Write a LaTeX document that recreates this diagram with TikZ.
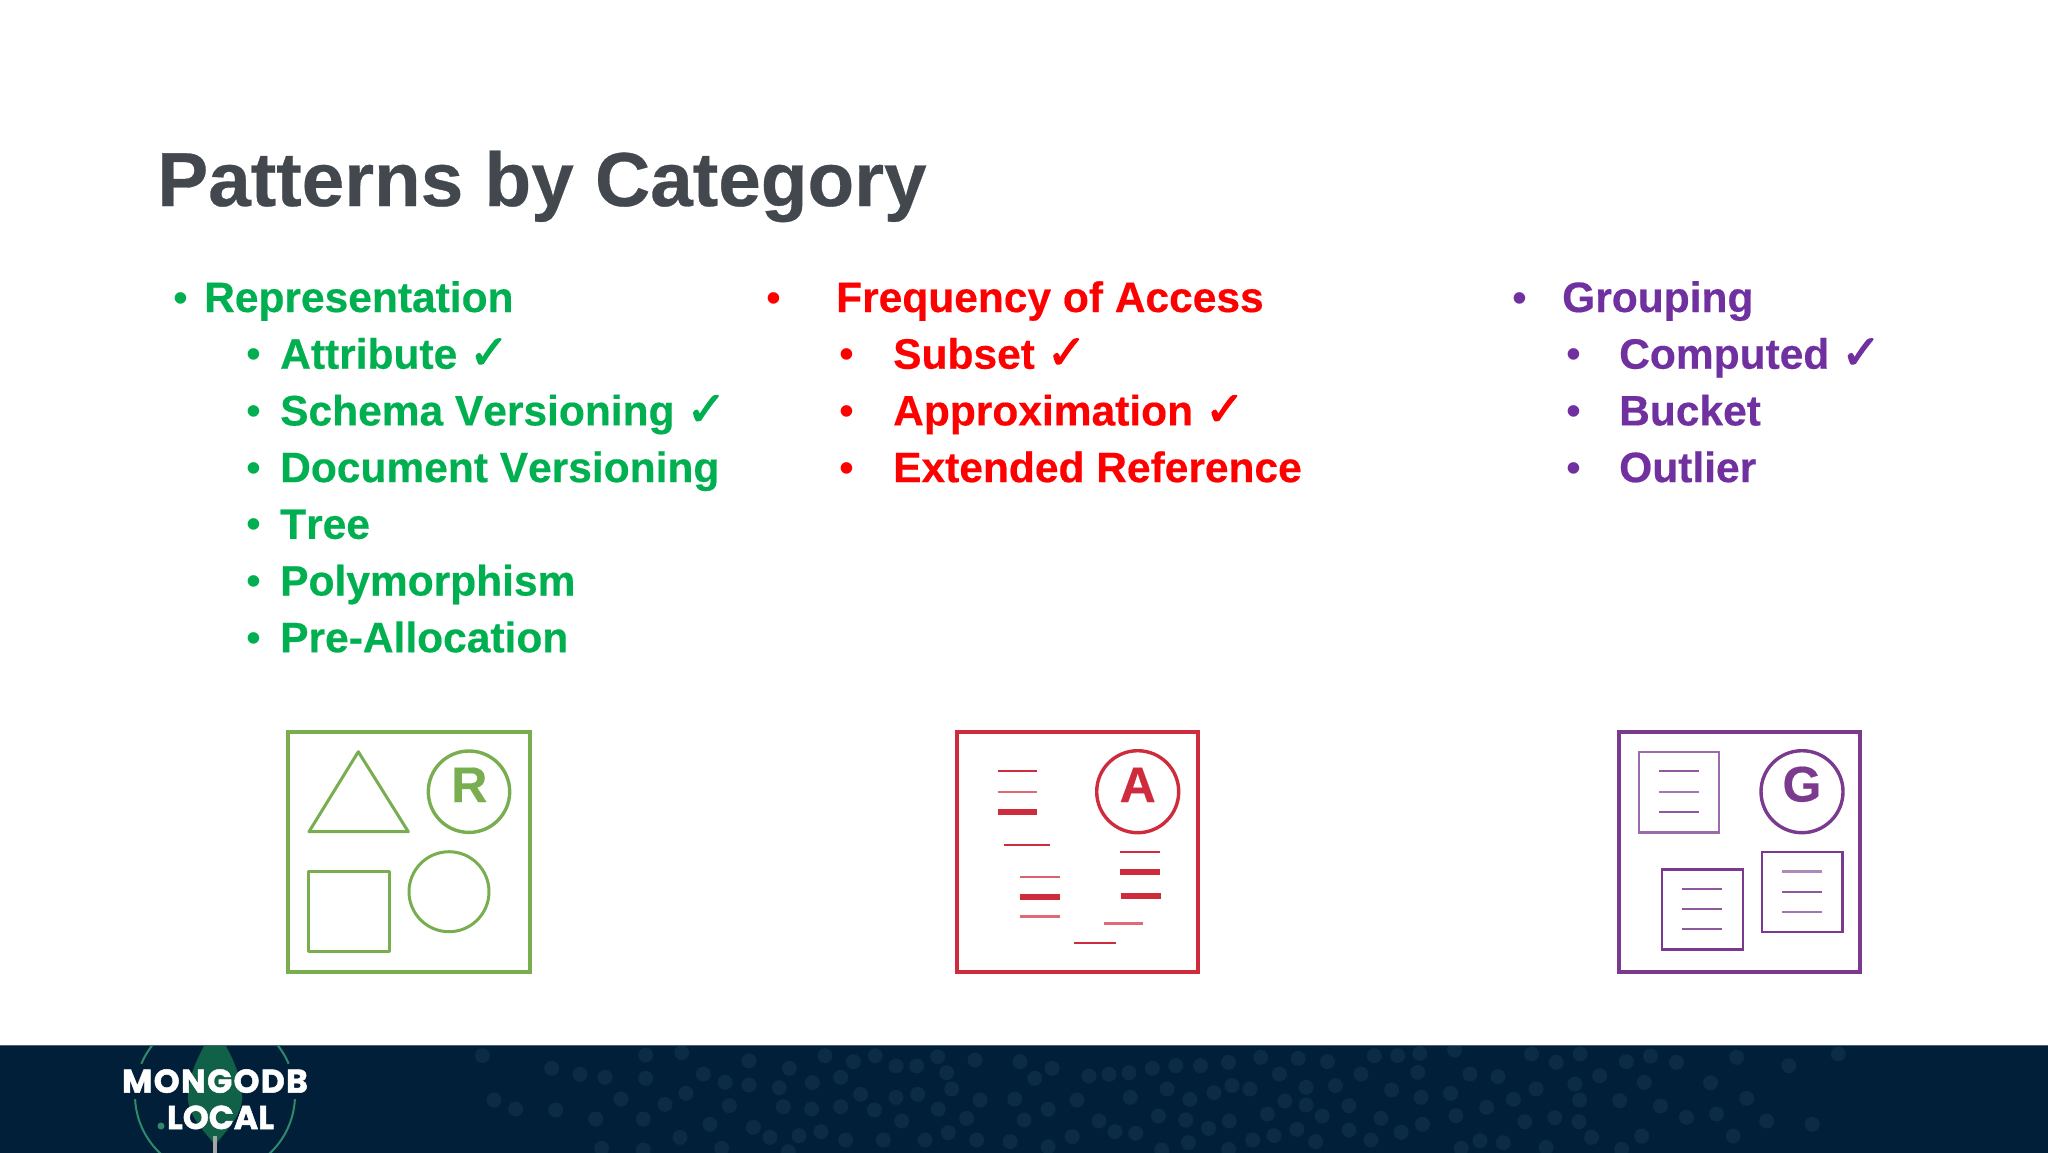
\documentclass[tikz,border=0pt]{standalone}
\usepackage{fontspec}
\setmainfont{Liberation Sans}[Kerning=Off,BoldFont={Liberation Sans Bold},BoldFeatures={FakeBold=0.4}]
\newfontfamily\chkfont[FakeBold=2.5,Scale=1.12]{DejaVu Sans Bold}
\newfontfamily\logofont[FakeBold=1.5,LetterSpace=4]{Poppins Bold}
\newfontfamily\logofontb[FakeBold=1.5]{Poppins Bold}
\definecolor{titlecol}{HTML}{43484F}
\definecolor{grn}{HTML}{00B050}
\definecolor{rd}{HTML}{FF0000}
\definecolor{prp}{HTML}{7030A0}
\definecolor{icong}{HTML}{78AE50}
\definecolor{iconr}{HTML}{CE2C3C}
\definecolor{iconp}{HTML}{7B3A8E}
\definecolor{band}{HTML}{021F3A}
\definecolor{dot}{HTML}{0C2B45}
\definecolor{leaf}{HTML}{116149}
\definecolor{ring}{HTML}{2E8B6A}
\tikzset{
  x=1pt,y=-1pt,
  txt/.style={anchor=base west,inner sep=0pt,font=\fontsize{42.5}{50}\selectfont\bfseries},
  blt/.style={anchor=base,inner sep=0pt,font=\fontsize{42.5}{50}\selectfont},
  frameg/.style={draw=icong,line width=4pt},
  framer/.style={draw=iconr,line width=4pt},
  framep/.style={draw=iconp,line width=4pt},
  shapeg/.style={draw=icong,line width=3pt,line join=round},
  ltr/.style={inner sep=0pt,anchor=base,font=\fontsize{50}{50}\selectfont\bfseries},
  thinr/.style={draw=iconr,line width=2.2pt},
  thickr/.style={draw=iconr,line width=5.8pt},
  thinp/.style={draw=iconp!85,line width=2.2pt},
  boxp/.style={draw=iconp,line width=2.4pt},
  logot/.style={inner sep=0pt,anchor=base,text=white,font=\logofont\fontsize{33}{33}\selectfont},
  logou/.style={inner sep=0pt,anchor=base,text=white,font=\logofontb\fontsize{33}{33}\selectfont},
}
\newcommand{\chk}{{\chkfont ✓}}
\begin{document}
\begin{tikzpicture}
\useasboundingbox (0,0) rectangle (2048,1152);
\fill[white] (0,0) rectangle (2048,1152);
% title
\node[anchor=base west,inner sep=0pt,text=titlecol,font=\fontsize{76.5}{80}\selectfont\bfseries] (title) at (157,206) {Patterns by Category};
% green column
\begin{scope}[text=grn]
\node[blt] (gb0) at (181,312) {•};
\node[txt] (g0) at (204,312) {Representation};
\node[blt] (gb1) at (254,368.7) {•};
\node[txt] (g1) at (280,368.7) {Attribute \chk};
\node[blt] (gb2) at (254,425.4) {•};
\node[txt] (g2) at (280,425.4) {Schema Versioning \chk};
\node[blt] (gb3) at (254,482.1) {•};
\node[txt] (g3) at (280,482.1) {Document Versioning};
\node[blt] (gb4) at (254,538.8) {•};
\node[txt] (g4) at (280,538.8) {Tree};
\node[blt] (gb5) at (254,595.5) {•};
\node[txt] (g5) at (280,595.5) {Polymorphism};
\node[blt] (gb6) at (254,652.2) {•};
\node[txt] (g6) at (280,652.2) {Pre-Allocation};
\end{scope}
% red column
\begin{scope}[text=rd]
\node[blt] (rb0) at (774,312) {•};
\node[txt] (r0) at (836,312) {Frequency of Access};
\node[blt] (rb1) at (847,368.7) {•};
\node[txt] (r1) at (893,368.7) {Subset \chk};
\node[blt] (rb2) at (847,425.4) {•};
\node[txt] (r2) at (893,425.4) {Approximation \chk};
\node[blt] (rb3) at (847,482.1) {•};
\node[txt] (r3) at (893,482.1) {Extended Reference};
\end{scope}
% purple column
\begin{scope}[text=prp]
\node[blt] (pb0) at (1520,312) {•};
\node[txt] (p0) at (1562,312) {Grouping};
\node[blt] (pb1) at (1574,368.7) {•};
\node[txt] (p1) at (1619,368.7) {Computed \chk};
\node[blt] (pb2) at (1574,425.4) {•};
\node[txt] (p2) at (1619,425.4) {Bucket};
\node[blt] (pb3) at (1574,482.1) {•};
\node[txt] (p3) at (1619,482.1) {Outlier};
\end{scope}
% icon R
\draw[frameg] (288,731.5) rectangle (530,972);
\draw[shapeg] (358.3,751.7) -- (309,831.7) -- (408.3,831.7) -- cycle;
\draw[shapeg,line width=3.4pt] (469,791.7) circle (40.7);
\node[ltr,text=icong] (lr) at (469.3,802) {R};
\draw[shapeg] (308.3,871.7) rectangle (389,951.7);
\draw[shapeg] (449,891.7) circle (40);
% icon A
\draw[framer] (957,731.5) rectangle (1198,972);
\draw[iconr,line width=3.4pt] (1137.7,791.7) circle (41);
\node[ltr,text=iconr] (la) at (1137.7,802) {A};
\draw[thinr] (997.7,771.3) -- (1037.3,771.3);
\draw[thinr,draw=iconr!70] (997.7,791.7) -- (1037.3,791.7);
\draw[thickr] (997.7,811.7) -- (1037.3,811.7);
\draw[thinr] (1004,844.7) -- (1050,844.7);
\draw[thinr,draw=iconr!75] (1020,876.7) -- (1060,876.7);
\draw[thickr] (1020,896.7) -- (1060,896.7);
\draw[thinr,line width=2.8pt,draw=iconr!70] (1020,916.7) -- (1060,916.7);
\draw[thinr] (1120.3,851.7) -- (1160.3,851.7);
\draw[thickr] (1120.3,872) -- (1160.3,872);
\draw[thickr] (1120.7,896) -- (1161,896);
\draw[thinr,line width=2.8pt,draw=iconr!70] (1104.3,923.3) -- (1142.7,923.3);
\draw[thinr] (1074.3,943.3) -- (1115.7,943.3);
% icon G
\draw[framep] (1618.5,731.5) rectangle (1859.5,972);
\draw[iconp,line width=3.4pt] (1802,791.7) circle (41);
\node[ltr,text=iconp] (lg) at (1802,801.5) {G};
\draw[boxp,draw=iconp!75] (1639,751.7) rectangle (1719,832.3);
\draw[thinp] (1659.3,771.3) -- (1698.7,771.3);
\draw[thinp,draw=iconp!70] (1659.3,791.7) -- (1698.7,791.7);
\draw[thinp] (1659.3,811.7) -- (1698.7,811.7);
\draw[boxp] (1661.7,869.3) rectangle (1742.7,949.3);
\draw[thinp] (1682.3,889) -- (1722,889);
\draw[thinp] (1682.3,909) -- (1722,909);
\draw[thinp] (1682.3,929) -- (1722,929);
\draw[boxp] (1761.7,851.7) rectangle (1842.3,932);
\draw[thinp,draw=iconp!60,line width=2.6pt] (1782.3,871.7) -- (1822,871.7);
\draw[thinp] (1782.3,891.7) -- (1822,891.7);
\draw[thinp,draw=iconp!70] (1782.3,911.7) -- (1822,911.7);
% band
\fill[band] (0,1045) rectangle (2048,1160);
\draw[draw=band!70!white,line width=1pt] (0,1045) -- (2048,1045);
\begin{scope}
\clip (0,1046) rectangle (2048,1160);
\foreach \a/\b in {97/47,305/85,390/103,465/112,587/45,587/115,695/38,760/102,897/62,825/127,897/135,1018/85,1125/47,1210/65,1276/47,1338/78,1400/78,1463/50,1490/98,1172/112,1087/128,988/143,708/160,513/177,132/180,197/207,317/210,645/193,838/197,1000/200,1085/207,1172/200,1232/163,1338/172,1403/163,1505/147,1273/210,1465/207,1355/243,437/237,580/237,780/253,910/262,960/292,1047/287,1113/275,1187/300,1300/300,1425/300,1495/278,690/292,455/325,580/330,815/325,1015/335,1550/235,1575/60,1590/180,1580/300}
  \fill[dot] (450+\a/3,1040+\b/3) circle (7.5);
\foreach \a/\b in {30/95,78/115,52/145,133/138,163/133,193/128,228/115,263/107,300/107,342/97,390/82,446/85,490/95,560/77,595/77,628/70,680/60,795/72,832/97,868/72,937/95,973/78,1012/97,1102/82,1180/107,1254/72,418/132,540/132,625/127,703/132,745/140,897/137,860/162,964/157,1063/158,250/177,347/167,374/177,458/172,502/167,586/180,802/177,22/207,115/210,195/202,284/208,320/188,630/202,674/190,768/208,867/210,927/212,988/228,1117/205,426/213,458/225,522/227,728/232,72/238,237/258,400/252,482/258,570/265,682/257,36/270,148/273,278/270,343/273,785/275,830/263,866/275,1027/262,1072/252,1147/273,1215/283,172/305,203/310,312/295,444/298,410/317,378/330,522/300,632/283,600/307,108/320,15/335,72/350,282/338,472/335,555/330,718/332,753/338,885/322,960/318,1097/318,242/360,342/358,690/355,817/352,930/358}
  \fill[dot] (1000+\a/1.496,1030+\b/3) circle (7.5);
% logo
\fill[leaf] (215,1028) .. controls (197,1055) and (187,1080) .. (188,1100)
   .. controls (190,1118) and (205,1132) .. (215,1145)
   .. controls (225,1132) and (240,1118) .. (242,1100)
   .. controls (243,1080) and (233,1055) .. (215,1028) -- cycle;
\draw[draw=gray!70,line width=4pt] (215,1136) -- (215,1160);
\draw[ring,line width=2pt] (215,1095) ++(-23:80) arc (-23:-157:80);
\draw[ring,line width=2pt] (215,1095) ++(3:80) arc (3:177:80);
\end{scope}
\node[logot] (mongodb) at (215,1092.7) {MONGODB};
\node[logou] (local) at (220.5,1129) {LOCAL};
\fill[ring] (161,1126) circle (3.5);
\end{tikzpicture}
\end{document}
